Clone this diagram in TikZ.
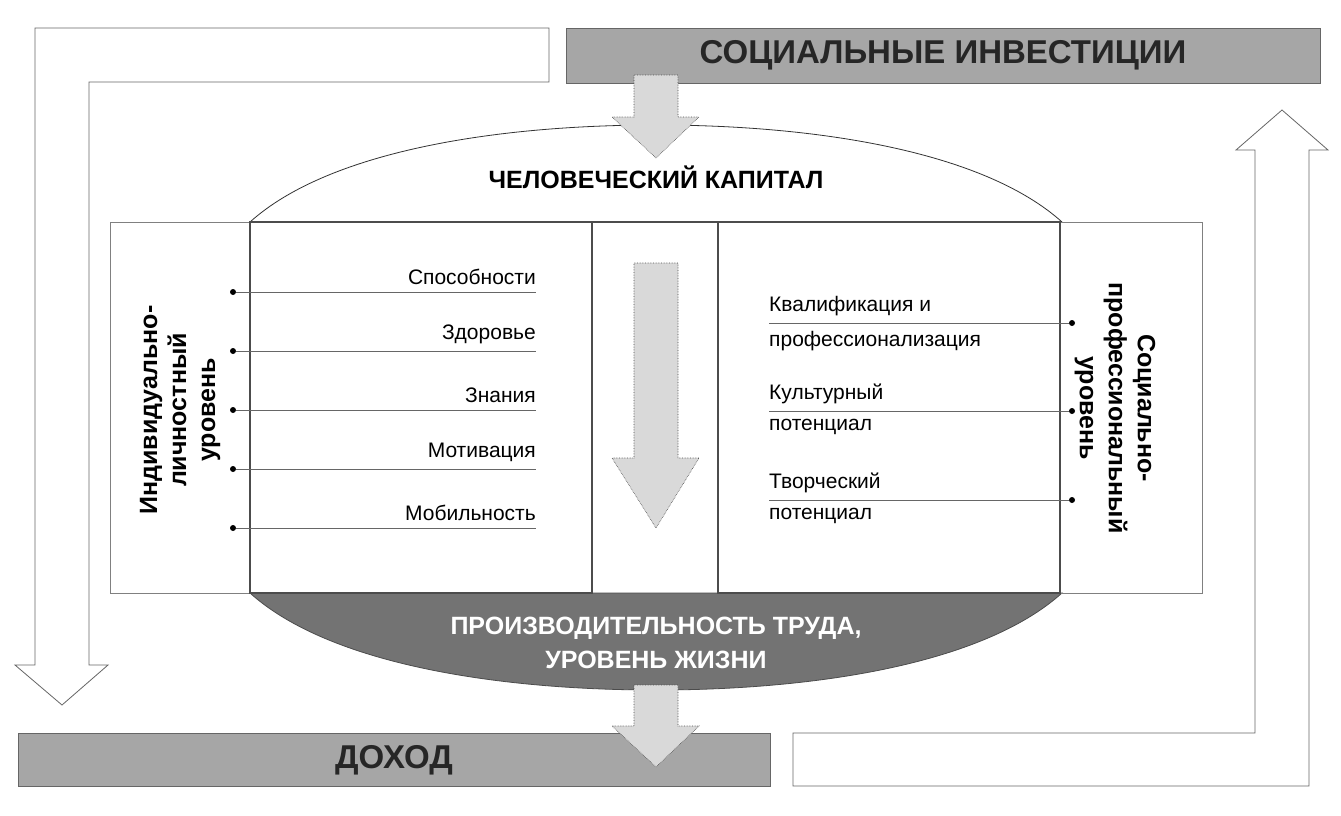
\documentclass[tikz,border=0pt]{standalone}
\usepackage{fontspec}
\setmainfont{Liberation Sans}
\begin{document}
\begin{tikzpicture}[x=1pt,y=-1pt,
  gbox/.style={draw=black!60,fill=black!35,line width=0.8pt},
  frame/.style={draw=black!60,line width=0.8pt,fill=white},
  darr/.style={draw=black!70,densely dotted,fill=black!15,line width=0.6pt},
  item/.style={font=\fontsize{21}{24}\selectfont,inner sep=0pt},
  big/.style={font=\bfseries\fontsize{33}{38}\selectfont,text=black!85},
  mid/.style={font=\bfseries\fontsize{25}{30}\selectfont},
  dotc/.style={fill=black,circle,inner sep=0pt,minimum size=6pt}]
\useasboundingbox (0,0) rectangle (1341,815);
\fill[white] (0,0) rectangle (1341,815);
% big L arrows
\draw[frame] (35,28)--(549,28)--(549,82)--(89,82)--(89,665)--(108,665)--(62,705)--(15,665)--(35,665)--cycle;
\draw[frame] (793,786)--(1309,786)--(1309,150)--(1328,150)--(1282,110)--(1236,150)--(1255,150)--(1255,733)--(793,733)--cycle;
% header boxes
\draw[gbox] (566,28) rectangle (1320,83);
\node[big] (inv) at (943,55) {СОЦИАЛЬНЫЕ ИНВЕСТИЦИИ};
\draw[gbox] (18,733) rectangle (770,786);
\node[big] (doh) at (394,760) {ДОХОД};
% top dome
\draw[black!80,line width=0.8pt,fill=white] (250,222) .. controls (330,150) and (500,125) .. (656,125) .. controls (812,125) and (982,150) .. (1062,222);
\node[mid] (hc) at (656,177) {ЧЕЛОВЕЧЕСКИЙ КАПИТАЛ};
% bottom dome
\draw[black!70,fill=black!55,line width=0.8pt] (250,593) .. controls (330,665) and (500,690) .. (656,690) .. controls (812,690) and (982,665) .. (1062,593) -- cycle;
\node[mid,text=white,align=center,font=\bfseries\fontsize{25}{34}\selectfont] (prod) at (656,643) {ПРОИЗВОДИТЕЛЬНОСТЬ ТРУДА,\\УРОВЕНЬ ЖИЗНИ};
% boxes
\draw[draw=black!50,line width=0.6pt] (110,222) rectangle (250,593);
\draw[draw=black!50,line width=0.6pt] (1060,222) rectangle (1202,593);
\draw[draw=black!70,line width=1.2pt] (250,222) rectangle (592,593);
\draw[draw=black!70,line width=1.2pt] (718,222) rectangle (1060,593);
\draw[draw=black!70,line width=1.2pt] (592,222) -- (718,222);
% arrows
\draw[darr] (634,75)--(678,75)--(678,117)--(699,117)--(656,158)--(612,117)--(634,117)--cycle;
\draw[darr] (634,263)--(678,263)--(678,458)--(699,458)--(656,528)--(612,458)--(634,458)--cycle;
\draw[darr] (634,685)--(678,685)--(678,726)--(699,726)--(656,767)--(612,726)--(634,726)--cycle;
% left items
\foreach \y/\t/\n in {292/Способности/a,351/Здоровье/b,410/Знания/c,469/Мотивация/d,528/Мобильность/e}{
  \node[dotc] (d\n) at (233,\y) {};
  \coordinate (e\n) at (536,\y);
  \draw[black!60,line width=0.7pt] (d\n) -- (e\n);
  \node[item,anchor=south east] (t\n) at (536,\y-7) {\t};
}
% right items
\foreach \y/\t/\s/\n in {323/Квалификация и/профессионализация/a,411/Культурный/потенциал/b,500/Творческий/потенциал/c}{
  \node[dotc] (r\n) at (1072,\y) {};
  \coordinate (s\n) at (769,\y);
  \draw[black!60,line width=0.7pt] (s\n) -- (r\n);
  \node[item,anchor=south west] (u\n) at (769,\y-7) {\t};
  \node[item,anchor=north west] (v\n) at (769,\y+8) {\s};
}
% rotated labels
\node[rotate=90,align=center,font=\bfseries\fontsize{25}{29}\selectfont] (il) at (180,410) {Индивидуально-\\личностный\\уровень};
\node[rotate=-90,align=center,font=\bfseries\fontsize{25}{29}\selectfont] (sl) at (1115,408) {Социально-\\профессиональный\\уровень};
\end{tikzpicture}
\end{document}
